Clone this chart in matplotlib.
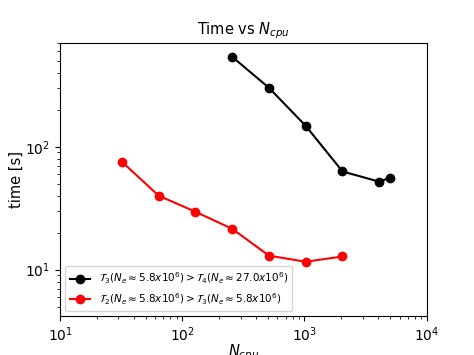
import matplotlib
matplotlib.use("Agg")
import matplotlib.pyplot as plt

# T3 -> T4 scaling run
ncpu_34 = [256, 512, 1024, 2048, 4096, 5000]
time_34 = [540, 302, 148, 63, 52, 56]

# T2 -> T3 scaling run
ncpu_23 = [32, 64, 128, 256, 512, 1024, 2048]
time_23 = [75.5, 40, 29.6, 21.5, 13, 11.6, 12.8]

fig = plt.figure(figsize=(4.74, 3.55), dpi=100)
ax = fig.add_axes([0.127, 0.11, 0.773, 0.769])

ax.plot(ncpu_34, time_34, 'o-', color='black',
        label=r'$\mathcal{T}_3(N_e \approx 5.8x10^6) > \mathcal{T}_4(N_e \approx 27.0x10^6)$')
ax.plot(ncpu_23, time_23, 'o-', color='red',
        label=r'$\mathcal{T}_2(N_e \approx 5.8x10^6) > \mathcal{T}_3(N_e \approx 5.8x10^6)$')

ax.set_xscale('log')
ax.set_yscale('log')
ax.set_xlim(10, 1e4)
ax.set_ylim(4.2, 700)
ax.set_title(r'Time vs $N_{cpu}$', fontsize=10.5)
ax.set_xlabel(r'$N_{cpu}$', fontsize=10.5, labelpad=-1)
ax.set_ylabel('time [s]', fontsize=10.5, labelpad=1)
ax.legend(loc='lower left', fontsize=7.5)

fig.savefig('out.png', dpi=100)
